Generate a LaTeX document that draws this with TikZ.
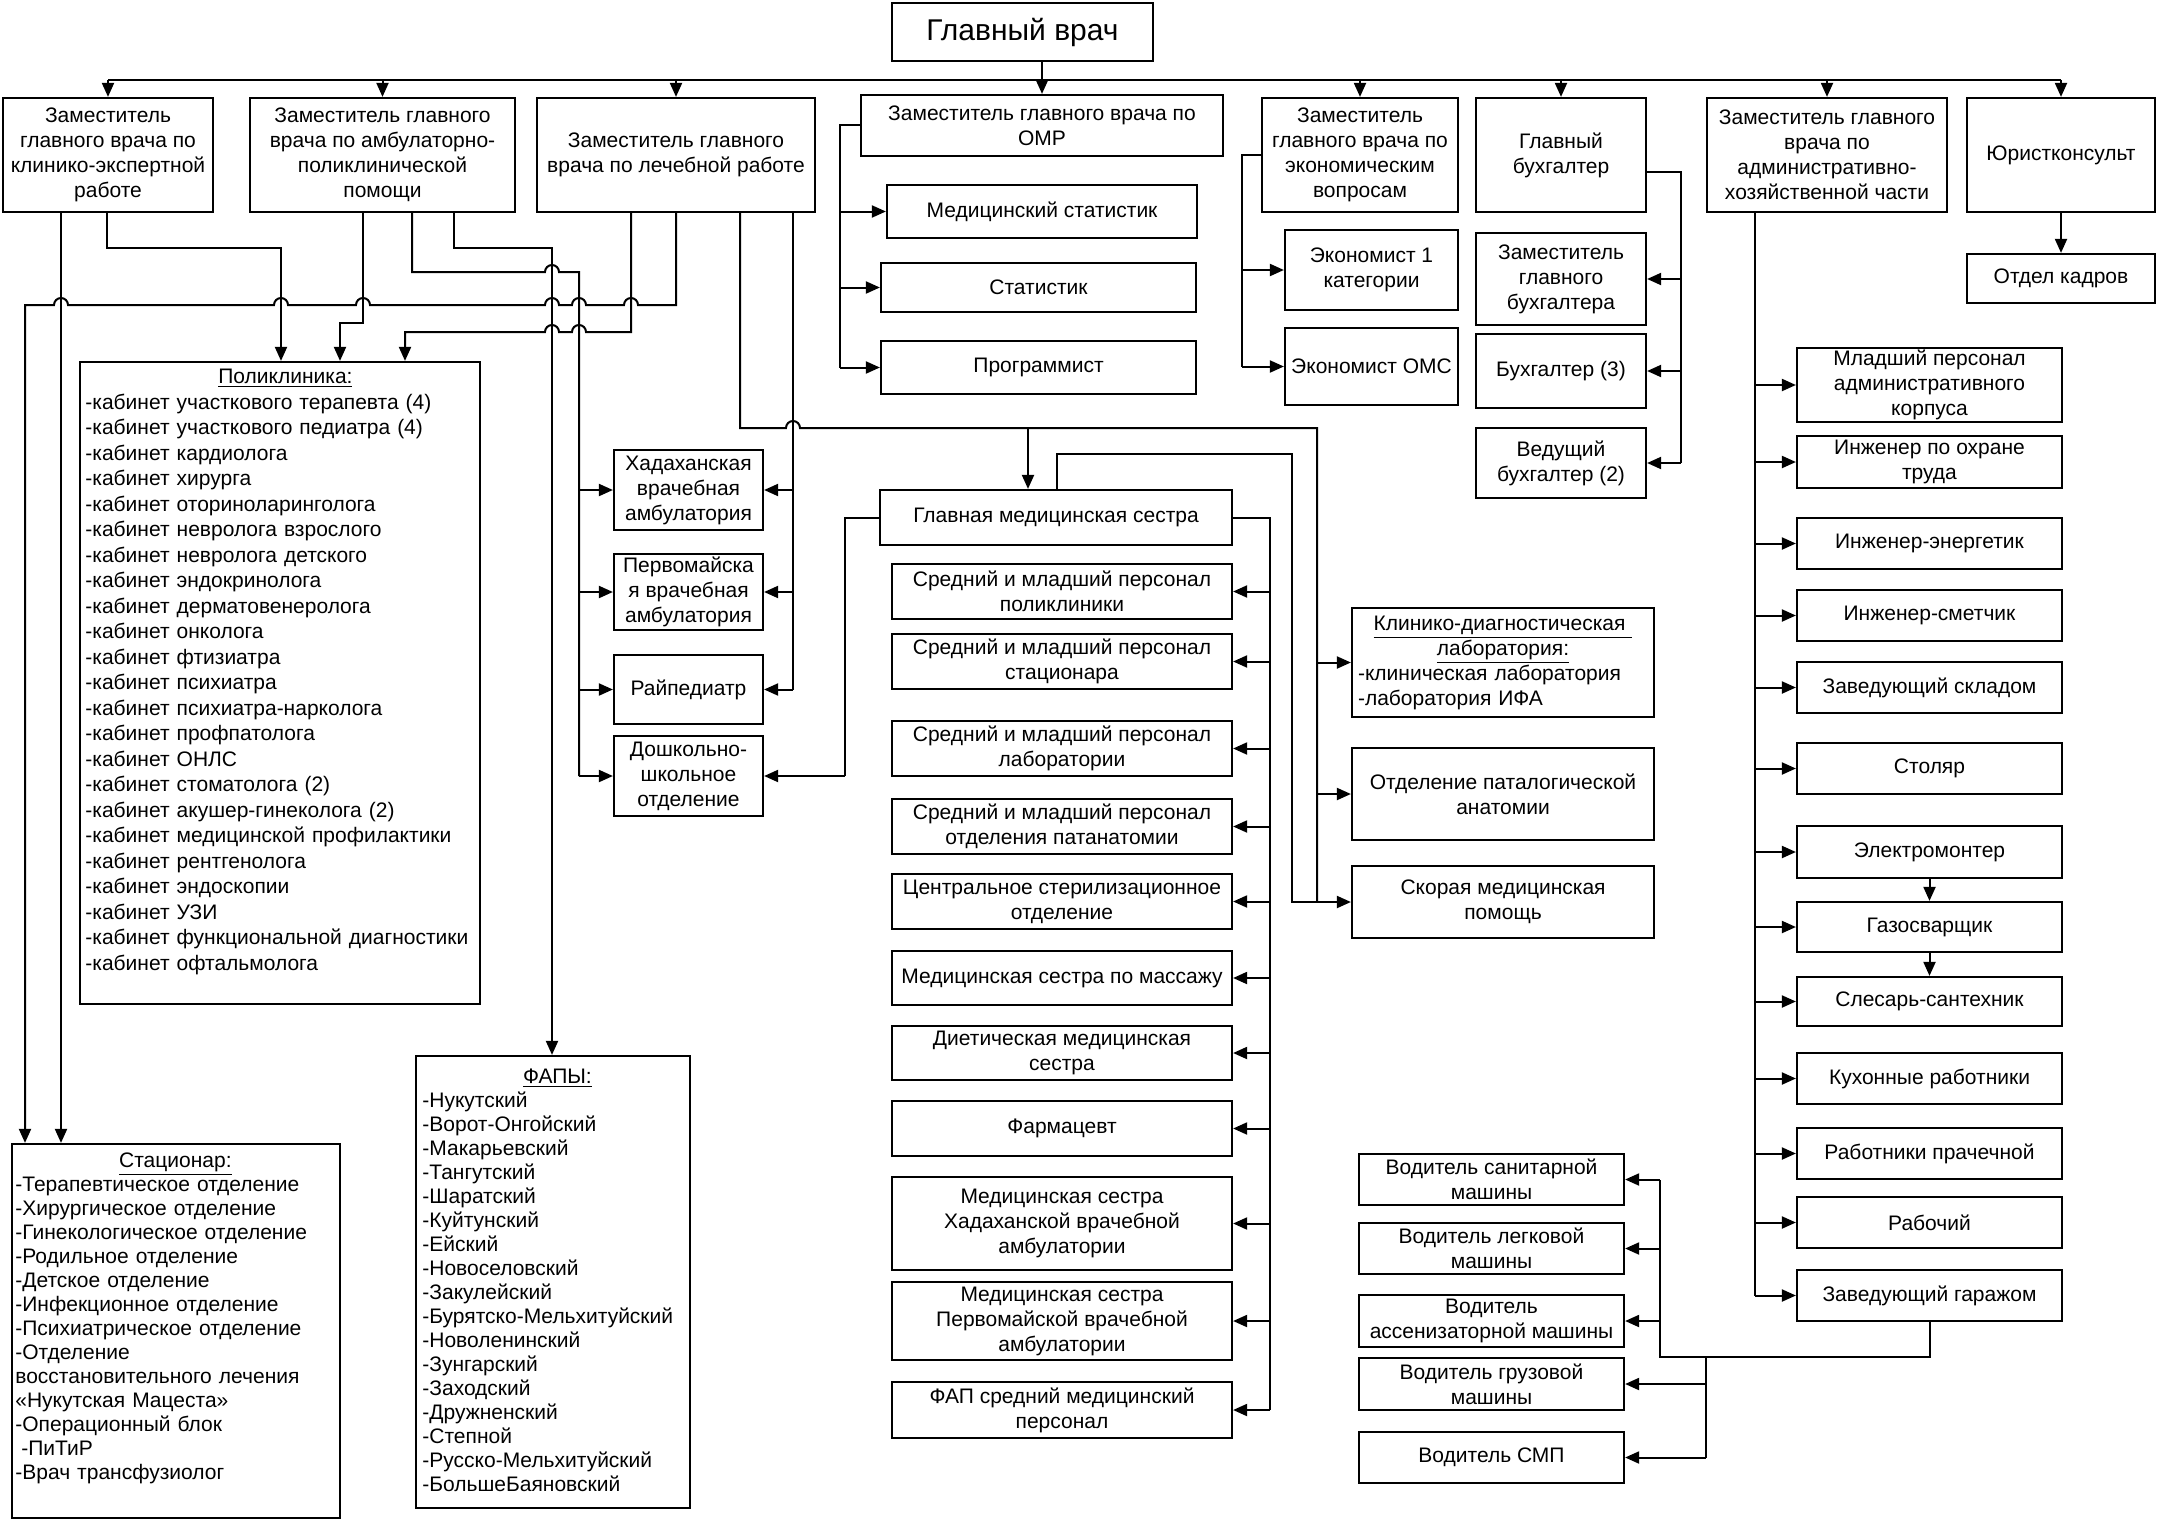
\documentclass[tikz,border=0pt]{standalone}
\usepackage{fontspec}
\setmainfont{Liberation Sans}
\usetikzlibrary{arrows.meta}
\newcommand{\obox}[6]{\node[box, minimum width={(#3-#2)*0.5pt}, minimum height={(#5-#4)*0.5pt}] (#1) at ({(#2+#3)/2},{(#4+#5)/2}) {#6};}
\begin{document}
\begin{tikzpicture}[x=0.5pt,y=-0.5pt,
 box/.style={draw, line width=1.1pt, rectangle, inner sep=1pt, align=center, font=\fontsize{10.5}{12.5}\selectfont},
 conn/.style={line width=1pt},
 arr/.style={conn, -{Triangle[length=7pt,width=6pt]}},
 lst/.style={inner sep=0pt, anchor=north west}]
\useasboundingbox[fill=white] (0,0) rectangle (2158,1520);

% top row
\obox{gv}{892}{1153}{3}{61}{\fontsize{15}{18}\selectfont Главный врач}
\obox{b1}{3}{213}{98}{212}{Заместитель\\главного врача по\\клинико-экспертной\\работе}
\obox{b2}{250}{515}{98}{212}{Заместитель главного\\врача по амбулаторно-\\поликлинической\\помощи}
\obox{b3}{537}{815}{98}{212}{Заместитель главного\\врача по лечебной работе}
\obox{omr}{861}{1223}{95}{156}{Заместитель главного врача по\\ОМР}
\obox{eco}{1262}{1458}{98}{212}{Заместитель\\главного врача по\\экономическим\\вопросам}
\obox{buh}{1476}{1646}{98}{212}{Главный\\бухгалтер}
\obox{adm}{1707}{1947}{98}{212}{Заместитель главного\\врача по\\административно-\\хозяйственной части}
\obox{jur}{1967}{2155}{98}{212}{Юристконсульт}
\obox{kad}{1967}{2155}{254}{303}{Отдел кадров}

% OMR, economy, accounting
\obox{ms}{887}{1197}{185}{238}{Медицинский статистик}
\obox{st}{881}{1196}{263}{312}{Статистик}
\obox{pr}{881}{1196}{341}{394}{Программист}
\obox{e1}{1285}{1458}{230}{310}{Экономист 1\\категории}
\obox{e2}{1285}{1458}{328}{405}{Экономист ОМС}
\obox{bz}{1476}{1646}{233}{325}{Заместитель\\главного\\бухгалтера}
\obox{bb}{1476}{1646}{334}{408}{Бухгалтер (3)}
\obox{bv}{1476}{1646}{428}{498}{Ведущий\\бухгалтер (2)}

% administrative column
\obox{r1}{1797}{2062}{348}{422}{Младший персонал\\административного\\корпуса}
\obox{r2}{1797}{2062}{436}{488}{Инженер по охране\\труда}
\obox{r3}{1797}{2062}{518}{569}{Инженер-энергетик}
\obox{r4}{1797}{2062}{590}{641}{Инженер-сметчик}
\obox{r5}{1797}{2062}{662}{713}{Заведующий складом}
\obox{r6}{1797}{2062}{743}{794}{Столяр}
\obox{r7}{1797}{2062}{826}{878}{Электромонтер}
\obox{r8}{1797}{2062}{902}{952}{Газосварщик}
\obox{r9}{1797}{2062}{977}{1026}{Слесарь-сантехник}
\obox{r10}{1797}{2062}{1053}{1104}{Кухонные работники}
\obox{r11}{1797}{2062}{1128}{1179}{Работники прачечной}
\obox{r12}{1797}{2062}{1197}{1248}{Рабочий}
\obox{r13}{1797}{2062}{1270}{1321}{Заведующий гаражом}

% drivers
\obox{d1}{1359}{1624}{1154}{1205}{Водитель санитарной\\машины}
\obox{d2}{1359}{1624}{1223}{1274}{Водитель легковой\\машины}
\obox{d3}{1359}{1624}{1295}{1347}{Водитель\\ассенизаторной машины}
\obox{d4}{1359}{1624}{1358}{1410}{Водитель грузовой\\машины}
\obox{d5}{1359}{1624}{1432}{1483}{Водитель СМП}

% nursing column
\obox{gms}{880}{1232}{490}{545}{Главная медицинская сестра}
\obox{s1}{892}{1232}{564}{619}{Средний и младший персонал\\поликлиники}
\obox{s2}{892}{1232}{634}{689}{Средний и младший персонал\\стационара}
\obox{s3}{892}{1232}{721}{776}{Средний и младший персонал\\лаборатории}
\obox{s4}{892}{1232}{799}{854}{Средний и младший персонал\\отделения патанатомии}
\obox{s5}{892}{1232}{874}{929}{Центральное стерилизационное\\отделение}
\obox{s6}{892}{1232}{951}{1005}{Медицинская сестра по массажу}
\obox{s7}{892}{1232}{1026}{1080}{Диетическая медицинская\\сестра}
\obox{s8}{892}{1232}{1101}{1156}{Фармацевт}
\obox{s9}{892}{1232}{1177}{1270}{Медицинская сестра\\Хадаханской врачебной\\амбулатории}
\obox{s10}{892}{1232}{1282}{1360}{Медицинская сестра\\Первомайской врачебной\\амбулатории}
\obox{s11}{892}{1232}{1382}{1438}{ФАП средний медицинский\\персонал}

% lab etc
\node[draw, line width=1.1pt, inner sep=3pt, minimum width={(1654-1352)*0.5pt}, minimum height={(717-608)*0.5pt}, text width={(1654-1352-12)*0.5pt}, font=\fontsize{10.5}{12.5}\selectfont] (kdl) at ({(1352+1654)/2},{(608+717)/2}) {\centering\underline{Клинико-диагностическая\ }\\\underline{лаборатория:}\par\raggedright -клиническая лаборатория\\-лаборатория ИФА};
\obox{opa}{1352}{1654}{748}{840}{Отделение паталогической\\анатомии}
\obox{smp}{1352}{1654}{866}{938}{Скорая медицинская\\помощь}

% ambulatories
\obox{a1}{614}{763}{450}{530}{Хадаханская\\врачебная\\амбулатория}
\obox{a2}{614}{763}{554}{630}{Первомайска\\я врачебная\\амбулатория}
\obox{a3}{614}{763}{655}{724}{Райпедиатр}
\obox{a4}{614}{763}{736}{816}{Дошкольно-\\школьное\\отделение}

% list boxes
\obox{pol}{80}{480}{362}{1004}{}
\obox{fap}{416}{690}{1056}{1508}{}
\obox{sta}{12}{340}{1144}{1518}{}
\node[lst, text width=200pt, font=\fontsize{10.5}{12.75}\selectfont] (poltxt) at (85,369) {\centering\underline{Поликлиника:}\par\raggedright
-кабинет участкового терапевта (4)\\
-кабинет участкового педиатра (4)\\
-кабинет кардиолога\\
-кабинет хирурга\\
-кабинет оториноларинголога\\
-кабинет невролога взрослого\\
-кабинет невролога детского\\
-кабинет эндокринолога\\
-кабинет дерматовенеролога\\
-кабинет онколога\\
-кабинет фтизиатра\\
-кабинет психиатра\\
-кабинет психиатра-нарколога\\
-кабинет профпатолога\\
-кабинет ОНЛС\\
-кабинет стоматолога (2)\\
-кабинет акушер-гинеколога (2)\\
-кабинет медицинской профилактики\\
-кабинет рентгенолога\\
-кабинет эндоскопии\\
-кабинет УЗИ\\
-кабинет функциональной диагностики\\
-кабинет офтальмолога};
\node[lst, text width=135pt, font=\fontsize{10.5}{12}\selectfont] (faptxt) at (422,1069) {\centering\underline{ФАПЫ:}\par\raggedright
-Нукутский\\
-Ворот-Онгойский\\
-Макарьевский\\
-Тангутский\\
-Шаратский\\
-Куйтунский\\
-Ейский\\
-Новоселовский\\
-Закулейский\\
-Бурятско-Мельхитуйский\\
-Новоленинский\\
-Зунгарский\\
-Заходский\\
-Дружненский\\
-Степной\\
-Русско-Мельхитуйский\\
-БольшеБаяновский};
\node[lst, text width=160pt, font=\fontsize{10.5}{12}\selectfont] (statxt) at (15,1152) {\centering\underline{Стационар:}\par\raggedright
-Терапевтическое отделение\\
-Хирургическое отделение\\
-Гинекологическое отделение\\
-Родильное отделение\\
-Детское отделение\\
-Инфекционное отделение\\
-Психиатрическое отделение\\
-Отделение\\
восстановительного лечения\\
«Нукутская Мацеста»\\
-Операционный блок\\
\hspace*{3pt}-ПиТиР\\
-Врач трансфузиолог};

% ---------- connectors ----------
\draw[conn] (b1.north |- 0,80) -- (jur.north |- 0,80);
\draw[arr] (gv.south -| omr.north) -- (omr.north);
\foreach \n in {b1,b2,b3,eco,buh,adm,jur} \draw[arr] (\n.north |- 0,80) -- (\n.north);

\draw[conn] (omr.west) -- (omr.west -| 840,0) -- (pr.west -| 840,0);
\foreach \n in {ms,st,pr} \draw[arr] (\n.west -| 840,0) -- (\n.west);
\draw[conn] (eco.west) -- (eco.west -| 1242,0) -- (e2.west -| 1242,0);
\foreach \n in {e1,e2} \draw[arr] (\n.west -| 1242,0) -- (\n.west);
\draw[conn] (buh.east |- 0,172) -- (1681,172) -- (bv.east -| 1681,0);
\foreach \n in {bz,bb,bv} \draw[arr] (\n.east -| 1681,0) -- (\n.east);
\draw[arr] (jur.south) -- (kad.north);

\draw[conn] (adm.south -| 1755,0) -- (r13.west -| 1755,0);
\foreach \i in {1,...,13} \draw[arr] (r\i.west -| 1755,0) -- (r\i.west);
\draw[arr] (r7.south) -- (r8.north);
\draw[arr] (r8.south) -- (r9.north);

\draw[conn] (r13.south) -- (r13.south |- 0,1357) -- (1660,1357) -- (d1.east -| 1660,0);
\draw[conn] (1706,1357) -- (d5.east -| 1706,0);
\foreach \n in {d1,d2,d3} \draw[arr] (\n.east -| 1660,0) -- (\n.east);
\foreach \n in {d4,d5} \draw[arr] (\n.east -| 1706,0) -- (\n.east);

\draw[conn] (gms.east) -- (gms.east -| 1270,0) -- (s11.east -| 1270,0);
\foreach \i in {1,...,11} \draw[arr] (s\i.east -| 1270,0) -- (s\i.east);

% treatment deputy -> head nurse, lab, pathology, ambulance
\draw[conn] (b3.south -| 740,0) -- (740,428) -- (786,428) arc[start angle=180,end angle=0,radius=3.5pt] -- (1317,428) -- (smp.west -| 1317,0);
\draw[arr] (1028,428) -- (gms.north -| 1028,0);
\foreach \n in {kdl,opa,smp} \draw[arr] (\n.west -| 1317,0) -- (\n.west);
\draw[conn] (gms.north -| 1057,0) -- (1057,454) -- (1292,454) -- (smp.west -| 1292,0) -- (smp.west -| 1317,0);

% treatment deputy -> ambulatories (right side)
\draw[conn] (b3.south -| 793,0) -- (a3.east -| 793,0);
\foreach \n in {a1,a2,a3} \draw[arr] (\n.east -| 793,0) -- (\n.east);
\draw[conn] (gms.west) -- (gms.west -| 845,0) -- (a4.east -| 845,0);
\draw[arr] (a4.east -| 845,0) -- (a4.east);

% ambulatory deputy -> ambulatories (left side)
\draw[conn] (b2.south -| 412,0) -- (412,272) -- (545,272) arc[start angle=180,end angle=0,radius=3.5pt] -- (579,272) -- (a4.west -| 579,0);
\foreach \n in {a1,a2,a3,a4} \draw[arr] (\n.west -| 579,0) -- (\n.west);
% ambulatory deputy -> FAP
\draw[arr] (b2.south -| 454,0) -- (454,248) -- (552,248) -- (fap.north -| 552,0);
% ambulatory deputy -> polyclinic
\draw[arr] (b2.south -| 363,0) -- (363,323) -- (340,323) -- (pol.north -| 340,0);
% clinical expert deputy -> polyclinic, hospital
\draw[arr] (b1.south -| 107,0) -- (107,248) -- (281,248) -- (pol.north -| 281,0);
\draw[arr] (b1.south -| 61,0) -- (sta.north -| 61,0);
% treatment deputy -> hospital
\draw[arr] (b3.south -| 676,0) -- (676,305) -- (638,305) arc[start angle=0,end angle=180,radius=3.5pt]
  -- (586,305) arc[start angle=0,end angle=180,radius=3.5pt]
  -- (559,305) arc[start angle=0,end angle=180,radius=3.5pt]
  -- (370,305) arc[start angle=0,end angle=180,radius=3.5pt]
  -- (288,305) arc[start angle=0,end angle=180,radius=3.5pt]
  -- (68,305) arc[start angle=0,end angle=180,radius=3.5pt]
  -- (25,305) -- (sta.north -| 25,0);
% treatment deputy -> polyclinic
\draw[arr] (b3.south -| 631,0) -- (631,332) -- (586,332) arc[start angle=0,end angle=180,radius=3.5pt]
  -- (559,332) arc[start angle=0,end angle=180,radius=3.5pt]
  -- (405,332) -- (pol.north -| 405,0);
\end{tikzpicture}
\end{document}
